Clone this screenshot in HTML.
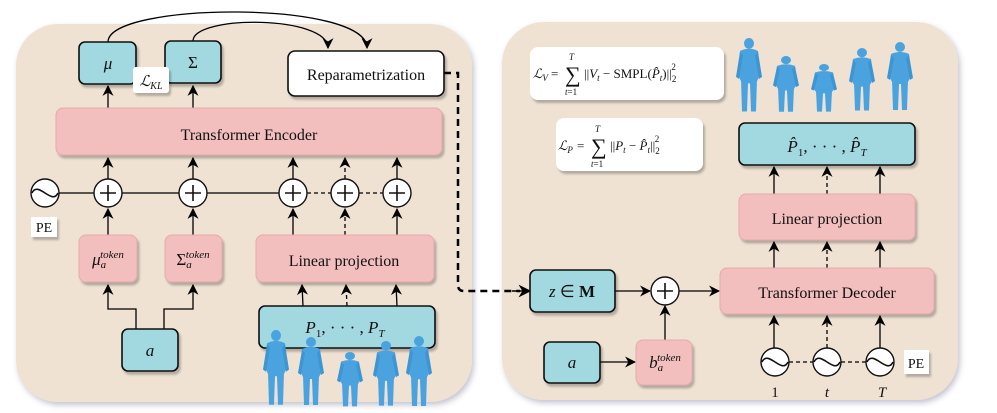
<!DOCTYPE html>
<html><head><meta charset="utf-8"><style>
html,body{margin:0;padding:0;background:#fff;}
svg{display:block;}
text{font-family:"Liberation Serif",serif;fill:#111;}
</style></head><body>
<svg width="997" height="413" viewBox="0 0 997 413" xmlns="http://www.w3.org/2000/svg">
<defs>
<marker id="ah" viewBox="0 0 10 10" refX="9" refY="5" markerWidth="8.5" markerHeight="8.5" orient="auto-start-reverse"><path d="M0,0 L10,5 L0,10 L3,5 z" fill="#000"/></marker>
<filter id="sh" x="-10%" y="-10%" width="130%" height="140%"><feDropShadow dx="2" dy="3" stdDeviation="1" flood-color="#000" flood-opacity="0.25"/></filter>
<filter id="psh" x="-5%" y="-5%" width="115%" height="115%"><feDropShadow dx="2" dy="3" stdDeviation="3" flood-color="#557" flood-opacity="0.35"/></filter>
<g id="hum">
<circle cx="0" cy="5" r="5" fill="#4aa3df"/>
<path d="M-9,12 Q0,8 9,12 L11,34 L8,40 L-8,40 L-11,34 Z" fill="#4aa3df"/>
<path d="M-9,13 L-13,36 L-10,38 L-6,16Z M9,13 L13,36 L10,38 L6,16Z" fill="#3d95d2"/>
<path d="M-8,38 L-7,68 L-2,68 L-1,42 L1,42 L2,68 L7,68 L8,38Z" fill="#4aa3df"/>
</g>
</defs>
<rect width="997" height="413" fill="#fff"/>
<rect x="16" y="24" width="456" height="378" rx="42" fill="#efe2d3" filter="url(#psh)"/>
<rect x="502" y="22" width="456" height="378" rx="42" fill="#efe2d3" filter="url(#psh)"/>

<g stroke="#000" stroke-width="1.3" fill="none">
<path d="M108,42 C108,2 367,0 367,48" marker-end="url(#ah)"/>
<path d="M193,41 C193,15 328,15 328,48" marker-end="url(#ah)"/>
<line x1="108" y1="108" x2="108" y2="86" marker-end="url(#ah)"/>
<line x1="193" y1="108" x2="193" y2="86" marker-end="url(#ah)"/>
<line x1="59" y1="193" x2="94" y2="193"/>
<line x1="122" y1="193" x2="179" y2="193"/>
<line x1="207" y1="193" x2="279" y2="193"/>
<line x1="307" y1="193" x2="331" y2="193" stroke-dasharray="4,3"/>
<line x1="359" y1="193" x2="383" y2="193" stroke-dasharray="4,3"/>
<line x1="108" y1="179" x2="108" y2="158" marker-end="url(#ah)"/>
<line x1="193" y1="179" x2="193" y2="158" marker-end="url(#ah)"/>
<line x1="293" y1="179" x2="293" y2="158" marker-end="url(#ah)"/>
<line x1="345" y1="179" x2="345" y2="158" marker-end="url(#ah)" stroke-dasharray="4,3"/>
<line x1="397" y1="179" x2="397" y2="158" marker-end="url(#ah)"/>
<line x1="108" y1="235" x2="108" y2="209" marker-end="url(#ah)"/>
<line x1="193" y1="235" x2="193" y2="209" marker-end="url(#ah)"/>
<line x1="293" y1="235" x2="293" y2="209" marker-end="url(#ah)"/>
<line x1="345" y1="235" x2="345" y2="209" marker-end="url(#ah)" stroke-dasharray="4,3"/>
<line x1="397" y1="235" x2="397" y2="209" marker-end="url(#ah)"/>
<path d="M136,329 V309 H108 V285" marker-end="url(#ah)"/>
<path d="M164,329 V309 H193 V285" marker-end="url(#ah)"/>
<line x1="303" y1="306" x2="302" y2="285" marker-end="url(#ah)"/>
<line x1="347" y1="306" x2="346" y2="285" marker-end="url(#ah)" stroke-dasharray="4,3"/>
<line x1="397" y1="306" x2="396" y2="285" marker-end="url(#ah)"/>
<path d="M444,73 H458 V285 Q458,291 464,291 H520" stroke-width="2.5" stroke-dasharray="7,5" />
<path d="M512,291 H530" stroke-width="1.5" marker-end="url(#ah)"/>
<line x1="615" y1="291" x2="650" y2="291" marker-end="url(#ah)"/>
<line x1="679" y1="291" x2="719" y2="291" marker-end="url(#ah)"/>
<line x1="665" y1="340" x2="665" y2="306" marker-end="url(#ah)"/>
<line x1="600" y1="362" x2="635" y2="362" marker-end="url(#ah)"/>
<line x1="774" y1="348" x2="774" y2="316" marker-end="url(#ah)"/>
<line x1="827" y1="348" x2="827" y2="316" marker-end="url(#ah)" stroke-dasharray="4,3"/>
<line x1="880" y1="348" x2="880" y2="316" marker-end="url(#ah)"/>
<line x1="789" y1="362" x2="813" y2="362" stroke-dasharray="4,3"/>
<line x1="841" y1="362" x2="866" y2="362" stroke-dasharray="4,3"/>
<line x1="774" y1="268" x2="774" y2="242" marker-end="url(#ah)"/>
<line x1="827" y1="268" x2="827" y2="242" marker-end="url(#ah)" stroke-dasharray="4,3"/>
<line x1="880" y1="268" x2="880" y2="242" marker-end="url(#ah)"/>
<line x1="774" y1="194" x2="774" y2="167" marker-end="url(#ah)"/>
<line x1="827" y1="194" x2="827" y2="167" marker-end="url(#ah)" stroke-dasharray="4,3"/>
<line x1="880" y1="194" x2="880" y2="167" marker-end="url(#ah)"/>
</g>

<g stroke="#111" stroke-width="1.6" filter="url(#sh)">
<rect x="79" y="42" width="57" height="42" rx="6" fill="#a2d8df"/>
<rect x="165" y="41" width="56" height="42" rx="6" fill="#a2d8df"/>
<rect x="288" y="51" width="156" height="45" rx="7" fill="#fff"/>
<rect x="122" y="329" width="56" height="42" rx="6" fill="#a2d8df"/>
<rect x="259" y="306" width="176" height="42" rx="6" fill="#a2d8df"/>
<rect x="530" y="270" width="85" height="42" rx="6" fill="#a2d8df"/>
<rect x="544" y="342" width="56" height="41" rx="6" fill="#a2d8df"/>
<rect x="739" y="123" width="176" height="42" rx="6" fill="#a2d8df"/>
</g>
<g fill="#f2bebe" stroke="#e6aaaa" stroke-width="1" filter="url(#sh)">
<rect x="56" y="108" width="386" height="47" rx="7"/>
<rect x="79" y="235" width="58" height="47" rx="7"/>
<rect x="165" y="235" width="57" height="47" rx="7"/>
<rect x="256" y="235" width="178" height="47" rx="7"/>
<rect x="739" y="194" width="176" height="46" rx="7"/>
<rect x="720" y="268" width="214" height="46" rx="7"/>
<rect x="636" y="340" width="56" height="45" rx="7"/>
</g>
<g fill="#fff" filter="url(#sh)">
<rect x="133" y="67" width="36" height="26" rx="3"/>
<rect x="31" y="217" width="26" height="20"/>
<rect x="530" y="47" width="194" height="53" rx="8"/>
<rect x="556" y="118" width="147" height="53" rx="8"/>
<rect x="904" y="350" width="25" height="24"/>
</g>

<g stroke="#111" stroke-width="1.4" fill="#fff">
<circle cx="108" cy="193" r="14"/><circle cx="193" cy="193" r="14"/><circle cx="293" cy="193" r="14"/><circle cx="345" cy="193" r="14"/><circle cx="397" cy="193" r="14"/>
<circle cx="665" cy="291" r="14"/>
<circle cx="45" cy="193" r="14"/>
<circle cx="775" cy="362" r="14"/><circle cx="827" cy="362" r="14"/><circle cx="880" cy="362" r="14"/>
</g>
<g stroke="#111" stroke-width="1.6" fill="none">
<path d="M100,193h16M108,185v16M185,193h16M193,185v16M285,193h16M293,185v16M337,193h16M345,185v16M389,193h16M397,185v16M657,291h16M665,283v16"/>
<path d="M32,193 C38,180 52,206 58,193"/>
<path d="M762,362 C768,349 782,375 788,362"/>
<path d="M814,362 C820,349 834,375 840,362"/>
<path d="M867,362 C873,349 887,375 893,362"/>
</g>

<g font-size="17" text-anchor="middle">
<text x="108" y="69" font-style="italic">μ</text>
<text x="193" y="68">Σ</text>
<text x="151" y="86" font-style="italic" font-size="15">ℒ<tspan font-size="10" dy="3">KL</tspan></text>
<text x="366" y="80" font-size="16">Reparametrization</text>
<text x="249" y="140" font-size="16">Transformer Encoder</text>
<text x="44" y="232" font-size="14">PE</text>
<text x="108" y="265" font-style="italic">μ<tspan font-size="11" dy="3">a</tspan><tspan font-size="11" dx="-6" dy="-10">token</tspan></text>
<text x="193" y="265">Σ<tspan font-size="11" dy="3" font-style="italic">a</tspan><tspan font-size="11" dx="-6" dy="-10" font-style="italic">token</tspan></text>
<text x="344" y="266" font-size="16">Linear projection</text>
<text x="150" y="356" font-style="italic">a</text>
<text x="345" y="333" font-style="italic">P<tspan font-size="11" dy="4" font-style="normal">1</tspan><tspan dy="-4" font-style="normal">, · · · , </tspan>P<tspan font-size="11" dy="4">T</tspan></text>
<text x="572" y="297" font-style="italic">z <tspan font-style="normal">∈</tspan> <tspan font-weight="bold" font-style="normal">M</tspan></text>
<text x="572" y="368" font-style="italic">a</text>
<text x="665" y="368" font-style="italic">b<tspan font-size="11" dy="3">a</tspan><tspan font-size="11" dx="-6" dy="-10">token</tspan></text>
<text x="827" y="152" font-style="italic">P̂<tspan font-size="11" dy="4" font-style="normal">1</tspan><tspan dy="-4" font-style="normal">, · · · , </tspan>P̂<tspan font-size="11" dy="4">T</tspan></text>
<text x="827" y="224" font-size="16">Linear projection</text>
<text x="827" y="298" font-size="16">Transformer Decoder</text>
<text x="775" y="397" font-size="15">1</text>
<text x="827" y="397" font-size="15" font-style="italic">t</text>
<text x="882" y="397" font-size="15" font-style="italic">T</text>
<text x="916" y="368" font-size="14">PE</text>
</g>
<g font-size="13">
<text x="533" y="78" font-style="italic">ℒ<tspan font-size="9" dy="3">V</tspan></text>
<text x="551" y="78">=</text>
<text x="565" y="82" font-size="22">∑</text>
<text x="569" y="60" font-size="9" font-style="italic">T</text>
<text x="565" y="95" font-size="9"><tspan font-style="italic">t</tspan>=1</text>
<text x="584" y="78">||<tspan font-style="italic">V<tspan font-size="9" dy="3">t</tspan></tspan><tspan dy="-3"> − SMPL(</tspan><tspan font-style="italic">P̂<tspan font-size="9" dy="3">t</tspan></tspan><tspan dy="-3">)||</tspan><tspan font-size="9" dy="4">2</tspan><tspan font-size="9" dx="-5" dy="-12">2</tspan></text>
<text x="558" y="150" font-style="italic">ℒ<tspan font-size="9" dy="3">P</tspan></text>
<text x="577" y="150">=</text>
<text x="591" y="154" font-size="22">∑</text>
<text x="595" y="132" font-size="9" font-style="italic">T</text>
<text x="591" y="167" font-size="9"><tspan font-style="italic">t</tspan>=1</text>
<text x="610" y="150">||<tspan font-style="italic">P<tspan font-size="9" dy="3">t</tspan></tspan><tspan dy="-3"> − </tspan><tspan font-style="italic">P̂<tspan font-size="9" dy="3">t</tspan></tspan><tspan dy="-3">||</tspan><tspan font-size="9" dy="4">2</tspan><tspan font-size="9" dx="-5" dy="-12">2</tspan></text>
</g>

<use href="#hum" transform="translate(276,330) scale(1,1.1)"/>
<use href="#hum" transform="translate(311,337) scale(1,1)"/>
<use href="#hum" transform="translate(350,352) scale(1,0.8)"/>
<use href="#hum" transform="translate(386,341) scale(1,0.95)"/>
<use href="#hum" transform="translate(419,336) scale(1,1.03)"/>
<use href="#hum" transform="translate(749,38) scale(1,1.08)"/>
<use href="#hum" transform="translate(786,56) scale(1,0.82)"/>
<use href="#hum" transform="translate(824,64) scale(1,0.7)"/>
<use href="#hum" transform="translate(862,48) scale(1,0.92)"/>
<use href="#hum" transform="translate(900,42) scale(1,1)"/>
</svg>
</body></html>
